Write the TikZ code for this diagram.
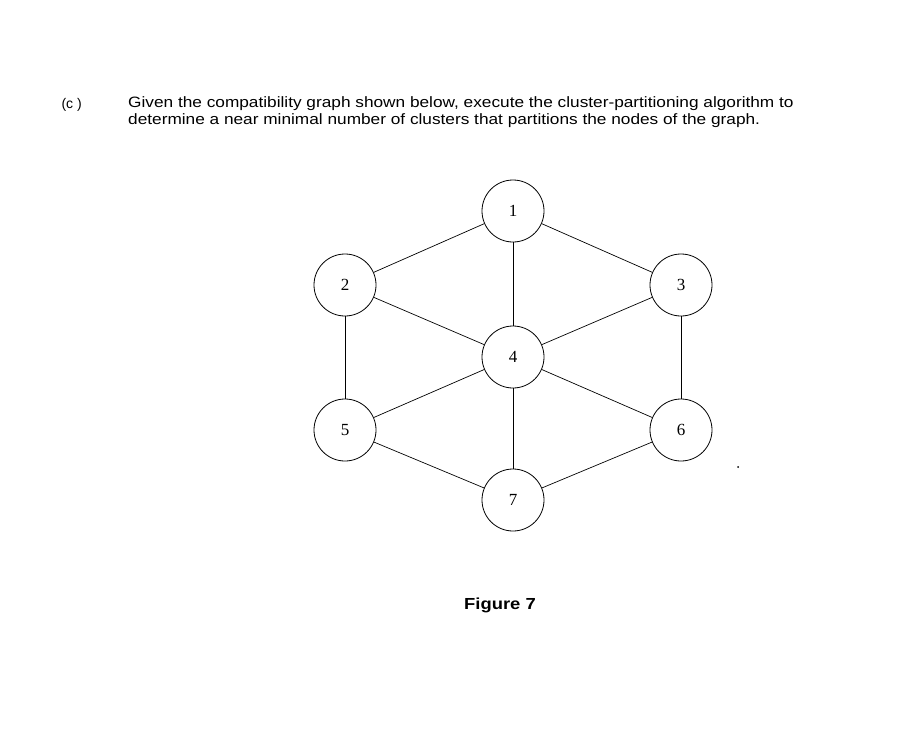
\documentclass[tikz,border=0pt]{standalone}
\usepackage{fontspec}
\setmainfont{Liberation Sans}
\newfontfamily\numfont{Liberation Serif}
\newfontfamily\widefont[FakeStretch=1.15]{Liberation Sans}
\begin{document}
\begin{tikzpicture}[x=1pt,y=-1pt,
  vtx/.style={circle,draw,line width=0.8pt,minimum size=62pt,inner sep=0pt,font=\numfont\fontsize{17}{17}\selectfont},
  edge/.style={line width=0.7pt}]
\useasboundingbox (0,0) rectangle (920,728);
\node[anchor=west,font=\fontsize{14}{15}\selectfont] (lab) at (58,105) {(c )};
\node[anchor=north west,align=left,font=\widefont\fontsize{15}{17}\selectfont,inner sep=0pt] (txt) at (128,96)
 {Given the compatibility graph shown below, execute the cluster-partitioning algorithm to\\
 determine a near minimal number of clusters that partitions the nodes of the graph.};
\node[vtx] (n1) at (513,211) {1};
\node[vtx] (n2) at (345,285) {2};
\node[vtx] (n3) at (681,285) {3};
\node[vtx] (n4) at (513,357) {4};
\node[vtx] (n5) at (345,430) {5};
\node[vtx] (n6) at (681,430) {6};
\node[vtx] (n7) at (513,500) {7};
\foreach \a/\b in {n1/n2,n1/n3,n1/n4,n2/n5,n2/n4,n3/n4,n3/n6,n4/n5,n4/n6,n4/n7,n5/n7,n6/n7}
  \draw[edge] (\a) -- (\b);
\node[font=\widefont\bfseries\fontsize{16}{17}\selectfont] (fig) at (500,605) {Figure 7};
\fill (738,467) circle (1pt);
\end{tikzpicture}
\end{document}
